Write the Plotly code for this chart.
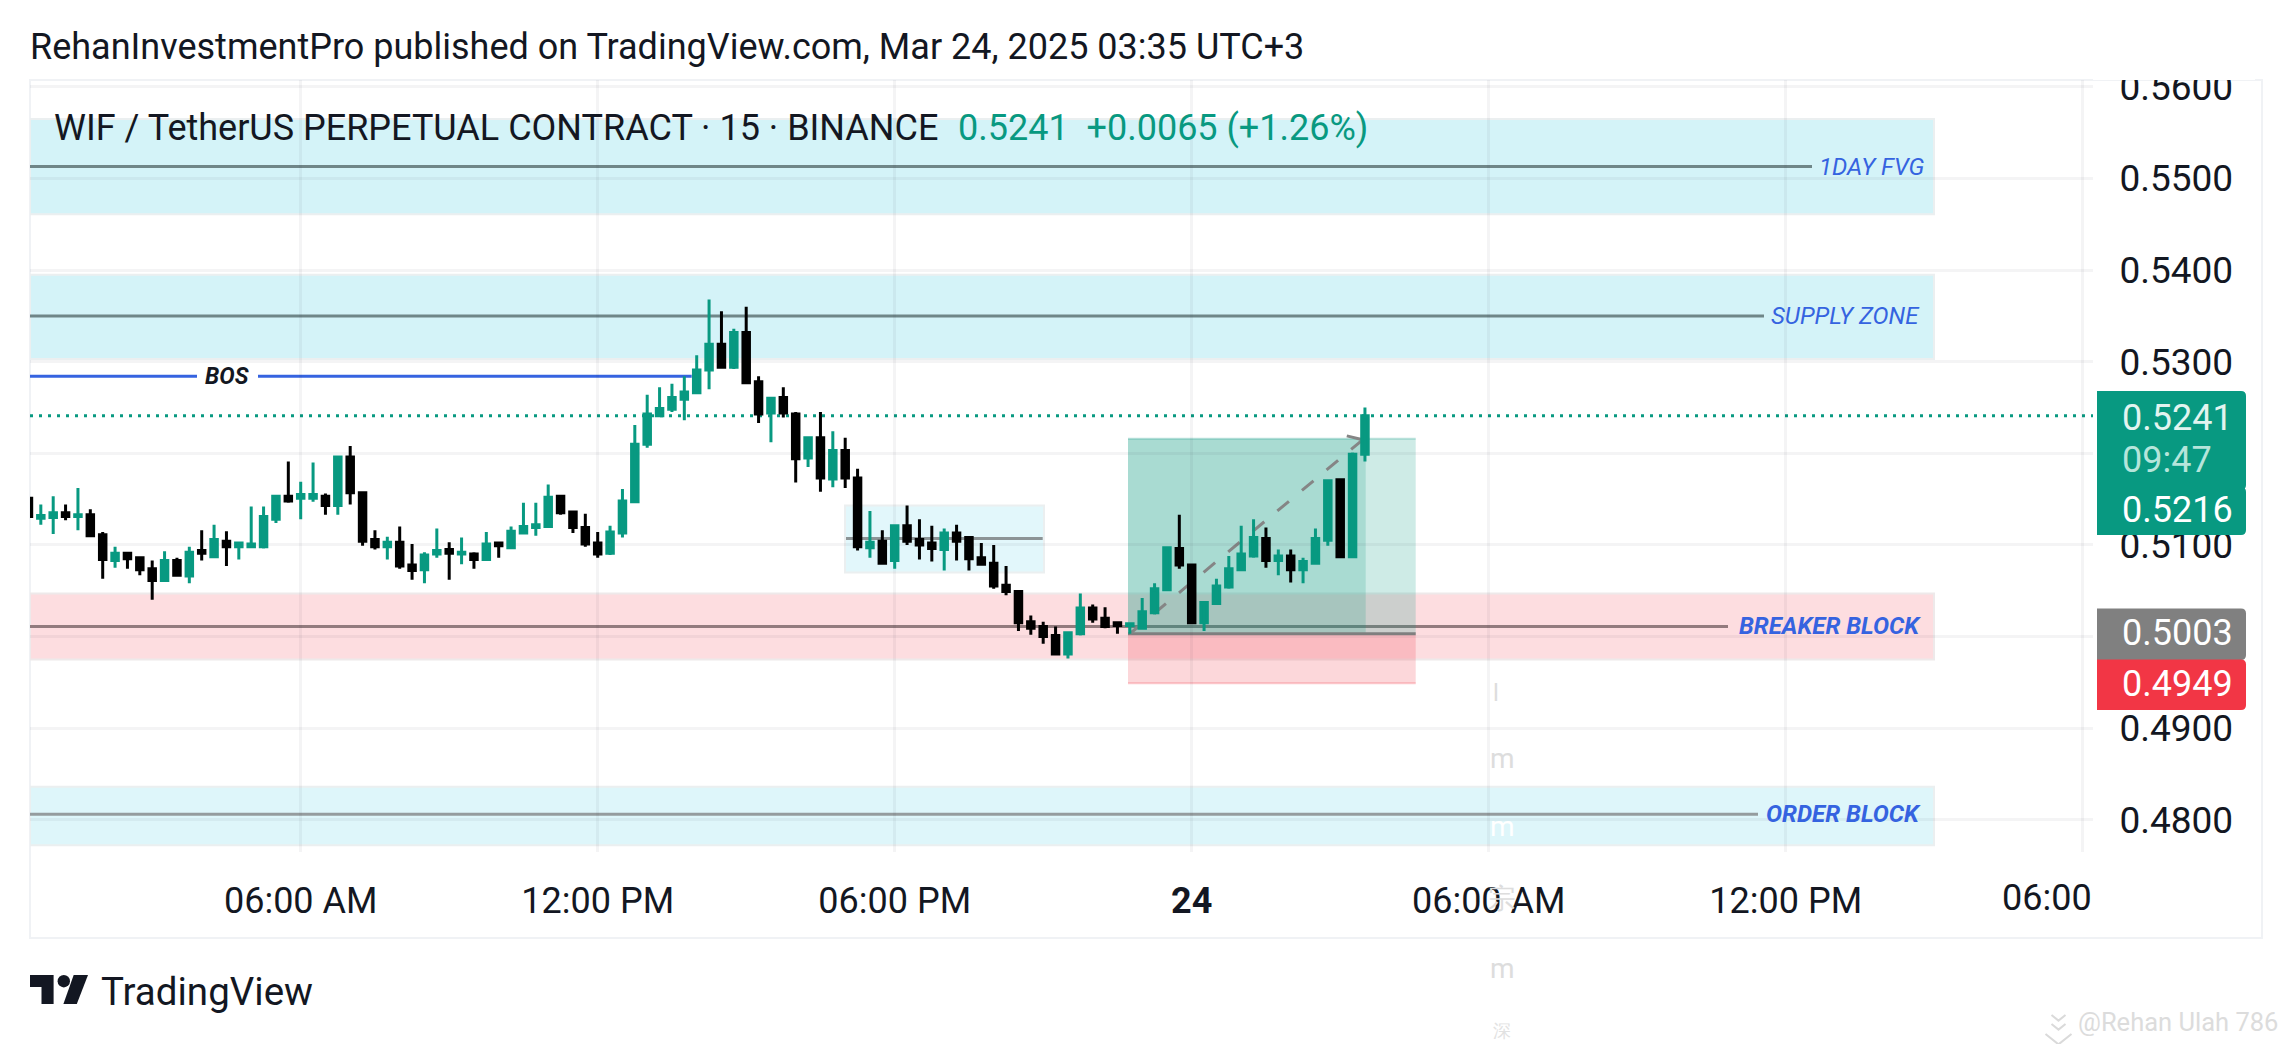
from datetime import datetime, timedelta
import plotly.graph_objects as go

# 15m bars, first one is Mar 23 00:30
start = datetime(2025, 3, 23, 0, 30)

opens = [0.5151, 0.5129, 0.5130, 0.5135, 0.5131, 0.5133, 0.5111, 0.5083, 0.5091, 0.5086,
         0.5074, 0.5061, 0.5083, 0.5066, 0.5094, 0.5087, 0.5104, 0.5098, 0.5098, 0.5098,
         0.5128, 0.5153, 0.5151, 0.5151, 0.5153, 0.5143, 0.5196, 0.5157, 0.5106, 0.5098,
         0.5103, 0.5078, 0.5073, 0.5090, 0.5095, 0.5090, 0.5090, 0.5084, 0.5102, 0.5097,
         0.5113, 0.5119, 0.5120, 0.5153, 0.5136, 0.5119, 0.5102, 0.5091, 0.5113, 0.5147,
         0.5210, 0.5241, 0.5248, 0.5259, 0.5266, 0.5291, 0.5319, 0.5294, 0.5332, 0.5278,
         0.5244, 0.5261, 0.5243, 0.5195, 0.5217, 0.5172, 0.5203, 0.5173, 0.5097, 0.5104,
         0.5083, 0.5121, 0.5106, 0.5102, 0.5095, 0.5113, 0.5108, 0.5086, 0.5080, 0.5056,
         0.5049, 0.5016, 0.5011, 0.5001, 0.4981, 0.5003, 0.5031, 0.5020, 0.5015, 0.5012,
         0.5009, 0.5026, 0.5051, 0.5096, 0.5078, 0.5015, 0.5036, 0.5054, 0.5073, 0.5088,
         0.5107, 0.5083, 0.5088, 0.5073, 0.5080, 0.5105, 0.5171, 0.5087, 0.5199]
highs = [0.5164, 0.5144, 0.5153, 0.5144, 0.5162, 0.5139, 0.5114, 0.5098, 0.5092, 0.5086,
         0.5083, 0.5093, 0.5086, 0.5098, 0.5116, 0.5122, 0.5115, 0.5103, 0.5142, 0.5142,
         0.5154, 0.5191, 0.5169, 0.5190, 0.5156, 0.5197, 0.5208, 0.5157, 0.5116, 0.5109,
         0.5120, 0.5101, 0.5092, 0.5118, 0.5103, 0.5108, 0.5092, 0.5114, 0.5103, 0.5120,
         0.5146, 0.5146, 0.5166, 0.5154, 0.5136, 0.5134, 0.5114, 0.5121, 0.5161, 0.5231,
         0.5264, 0.5272, 0.5276, 0.5284, 0.5307, 0.5368, 0.5355, 0.5336, 0.5360, 0.5284,
         0.5261, 0.5272, 0.5245, 0.5218, 0.5245, 0.5224, 0.5217, 0.5183, 0.5137, 0.5116,
         0.5121, 0.5143, 0.5128, 0.5121, 0.5118, 0.5122, 0.5109, 0.5102, 0.5100, 0.5077,
         0.5050, 0.5023, 0.5016, 0.5011, 0.5004, 0.5047, 0.5035, 0.5032, 0.5016, 0.5014,
         0.5042, 0.5058, 0.5098, 0.5133, 0.5079, 0.5037, 0.5063, 0.5088, 0.5121, 0.5128,
         0.5119, 0.5095, 0.5095, 0.5086, 0.5118, 0.5171, 0.5172, 0.5201, 0.5250]
lows = [0.5128, 0.5122, 0.5112, 0.5127, 0.5116, 0.5110, 0.5063, 0.5075, 0.5074, 0.5067,
        0.5040, 0.5061, 0.5067, 0.5058, 0.5083, 0.5087, 0.5077, 0.5084, 0.5098, 0.5096,
        0.5124, 0.5146, 0.5128, 0.5147, 0.5133, 0.5133, 0.5144, 0.5099, 0.5095, 0.5084,
        0.5074, 0.5062, 0.5058, 0.5086, 0.5062, 0.5079, 0.5074, 0.5084, 0.5086, 0.5096,
        0.5112, 0.5110, 0.5120, 0.5133, 0.5113, 0.5098, 0.5086, 0.5089, 0.5108, 0.5147,
        0.5206, 0.5240, 0.5245, 0.5236, 0.5266, 0.5270, 0.5294, 0.5292, 0.5277, 0.5233,
        0.5212, 0.5239, 0.5168, 0.5185, 0.5158, 0.5163, 0.5162, 0.5094, 0.5086, 0.5080,
        0.5074, 0.5100, 0.5084, 0.5082, 0.5072, 0.5083, 0.5072, 0.5079, 0.5052, 0.5045,
        0.5006, 0.5002, 0.4992, 0.4980, 0.4976, 0.5001, 0.5015, 0.5009, 0.5003, 0.5003,
        0.5008, 0.5024, 0.5050, 0.5074, 0.5015, 0.5006, 0.5036, 0.5052, 0.5073, 0.5086,
        0.5075, 0.5067, 0.5059, 0.5058, 0.5079, 0.5099, 0.5086, 0.5087, 0.5191]
closes = [0.5131, 0.5132, 0.5135, 0.5131, 0.5133, 0.5110, 0.5084, 0.5091, 0.5085, 0.5073,
          0.5061, 0.5083, 0.5067, 0.5092, 0.5091, 0.5106, 0.5098, 0.5102, 0.5101, 0.5131,
          0.5153, 0.5148, 0.5155, 0.5155, 0.5143, 0.5196, 0.5157, 0.5104, 0.5098, 0.5103,
          0.5077, 0.5072, 0.5089, 0.5094, 0.5091, 0.5092, 0.5084, 0.5101, 0.5099, 0.5115,
          0.5120, 0.5122, 0.5152, 0.5135, 0.5119, 0.5101, 0.5090, 0.5114, 0.5148, 0.5210,
          0.5243, 0.5249, 0.5261, 0.5267, 0.5291, 0.5319, 0.5294, 0.5332, 0.5277, 0.5243,
          0.5260, 0.5244, 0.5194, 0.5217, 0.5173, 0.5203, 0.5173, 0.5098, 0.5103, 0.5080,
          0.5121, 0.5104, 0.5100, 0.5096, 0.5113, 0.5104, 0.5085, 0.5079, 0.5055, 0.5049,
          0.5015, 0.5009, 0.5000, 0.4981, 0.5004, 0.5031, 0.5019, 0.5011, 0.5012, 0.5014,
          0.5027, 0.5052, 0.5097, 0.5078, 0.5015, 0.5037, 0.5055, 0.5074, 0.5090, 0.5108,
          0.5083, 0.5088, 0.5073, 0.5082, 0.5107, 0.5170, 0.5087, 0.5199, 0.5241]
times = [start + timedelta(minutes=15 * i) for i in range(len(opens))]

price_ticks = [0.56, 0.55, 0.54, 0.53, 0.52, 0.51, 0.50, 0.49, 0.48]
# 0.52 and 0.50 sit under the price labels in the picture
price_labels = ['0.5600', '0.5500', '0.5400', '0.5300', '', '0.5100', '', '0.4900', '0.4800']
time_ticks = [datetime(2025, 3, 23, 6), datetime(2025, 3, 23, 12), datetime(2025, 3, 23, 18),
              datetime(2025, 3, 24, 0), datetime(2025, 3, 24, 6), datetime(2025, 3, 24, 12),
              datetime(2025, 3, 24, 18)]
time_labels = ['06:00 AM', '12:00 PM', '06:00 PM', '<b>24</b>', '06:00 AM', '12:00 PM', '']

# zones: name, low, high, centre line
zone_names = ['1DAY FVG', 'SUPPLY ZONE', 'BREAKER BLOCK', 'ORDER BLOCK']
zone_lows = [0.5461, 0.5303, 0.4975, 0.4772]
zone_highs = [0.5565, 0.5395, 0.5047, 0.4836]
zone_mids = [0.5513, 0.5350, 0.5011, 0.4806]
bos_price = 0.5284
last_price = 0.5241
entry_price = 0.5003
target_price = 0.5216
stop_price = 0.4949

FONT = 'Roboto'
GREEN = '#089981'
BLUE = '#3563E0'
GRID = 'rgba(42,46,57,0.05)'

# pane position in page pixels
L, R, T, B = 30, 2093, 80, 852
PER_HOUR = 49.5
xrange = [datetime(2025, 3, 23, 6) - timedelta(hours=(300.7 - L) / PER_HOUR),
          datetime(2025, 3, 23, 6) + timedelta(hours=(R - 300.7) / PER_HOUR)]
yrange = [0.52 - (B - 453.3) / 9160, 0.52 + (453.3 - T) / 9160]


def px(x):
    return (x - L) / (R - L)


def py(y):
    return (B - y) / (B - T)


def t_at(x):
    return xrange[0] + timedelta(hours=(x - L) / PER_HOUR)


fig = go.Figure()

fig.add_trace(go.Candlestick(
    x=times, open=opens, high=highs, low=lows, close=closes,
    increasing=dict(line=dict(color=GREEN, width=3), fillcolor=GREEN),
    decreasing=dict(line=dict(color='#000000', width=3), fillcolor='#000000'),
    whiskerwidth=0, showlegend=False, hoverinfo='skip',
))


def rect(x0, x1, y0, y1, fill, line=None, width=0, layer='below'):
    fig.add_shape(type='rect', x0=x0, x1=x1, y0=y0, y1=y1, xref='x', yref='y', fillcolor=fill,
                  line=dict(color=line or 'rgba(0,0,0,0)', width=width), layer=layer)


def hline(x0, x1, y, color, width=3, dash_style='solid'):
    fig.add_shape(type='line', x0=x0, x1=x1, y0=y, y1=y, xref='x', yref='y',
                  line=dict(color=color, width=width, dash=dash_style), layer='below')


def page_box(x0, x1, y0, y1, fill, r=5):
    # square on the axis side, rounded on the outer side
    fig.add_shape(type='path', xref='paper', yref='paper', layer='above', fillcolor=fill,
                  line=dict(width=0),
                  path=f'M {px(x0)} {py(y0)} L {px(x1 - r)} {py(y0)} Q {px(x1)} {py(y0)} {px(x1)} {py(y0 + r)} '
                       f'L {px(x1)} {py(y1 - r)} Q {px(x1)} {py(y1)} {px(x1 - r)} {py(y1)} L {px(x0)} {py(y1)} Z')


def label(x, y, text, size=36, color='#131722', anchor='left', **kw):
    fig.add_annotation(x=px(x), y=py(y), xref='paper', yref='paper', text=text, showarrow=False,
                       xanchor=anchor, yanchor='middle', align=anchor, borderpad=0,
                       font=dict(family=FONT, size=size, color=color), **kw)


x_zone_end = t_at(1934)
x_left = xrange[0]
cyan = 'rgba(60,200,225,0.22)'
zone_fills = [cyan, cyan, 'rgba(242,54,69,0.17)', 'rgba(60,200,225,0.17)']
zone_edges = ['#EBEFF0', '#EBEFF0', '#EEE9EA', '#EBEFF0']
zone_line_ends = [1812, 1764, 1728, 1758]
zone_line_colors = ['#6F8688', '#6F8688', '#937B7E', '#959C9E']
for i in range(len(zone_names)):
    rect(x_left, x_zone_end, zone_lows[i], zone_highs[i], zone_fills[i], zone_edges[i], 2)
    hline(x_left, t_at(zone_line_ends[i]), zone_mids[i], zone_line_colors[i])

# small fvg in the middle
rect(t_at(845), t_at(1044), 0.5070, 0.5143, 'rgba(60,200,225,0.15)', '#EBEFF0', 2)
hline(t_at(846), t_at(1042.7), 0.5107, '#8C9496')

# long position tool
x_tool = t_at(1128)
rect(x_tool, t_at(1415.7), entry_price, target_price, 'rgba(8,153,129,0.2)')
rect(x_tool, t_at(1365.7), entry_price, target_price, 'rgba(8,153,129,0.19)')
rect(x_tool, t_at(1415.7), stop_price, entry_price, 'rgba(242,54,69,0.2)')
hline(x_tool, t_at(1415.7), entry_price, '#7F7F7F')
hline(x_tool, t_at(1415.7), target_price, 'rgba(8,153,129,0.25)', 2)
hline(x_tool, t_at(1415.7), stop_price, 'rgba(242,54,69,0.25)', 2)

# dashed trade line and its arrow head, both stay behind the candles
fig.add_shape(type='line', xref='x', yref='y', x0=times[89], y0=entry_price, x1=times[107] + timedelta(minutes=10),
              y1=0.5213, line=dict(color='#858585', width=3, dash='15px,17px'), layer='below')
fig.add_shape(type='line', xref='x', yref='y', x0=times[106] + timedelta(minutes=8), y0=0.5219,
              x1=times[107] + timedelta(minutes=11), y1=0.5215, line=dict(color='#858585', width=3), layer='below')

# BOS line, broken by its label
hline(x_left, t_at(197), bos_price, BLUE)
hline(t_at(258), t_at(691.7), bos_price, BLUE)

hline(x_left, xrange[1], last_price, GREEN, 3, '3px,6px')

# clip the top tick label at the pane edge
fig.add_shape(type='rect', xref='paper', yref='paper', x0=px(2093), x1=px(2255), y0=py(80), y1=py(62),
              fillcolor='#ffffff', line=dict(width=0), layer='above')

# price axis labels
page_box(2097, 2246, 391, 490, GREEN)
page_box(2097, 2246, 487, 535, GREEN)
page_box(2097, 2246, 608.5, 660, '#808080')
page_box(2097, 2246, 659.5, 710, '#F23645')

# pane border, logo
fig.add_shape(type='rect', xref='paper', yref='paper', x0=px(30), x1=px(2262), y0=py(80), y1=py(938),
              line=dict(color='#F0F2F5', width=2), fillcolor='rgba(0,0,0,0)', layer='below')
logo = '#131722'
fig.add_shape(type='path', xref='paper', yref='paper', fillcolor=logo, line=dict(width=0), layer='above',
              path=f'M {px(30)} {py(975)} L {px(53.6)} {py(975)} L {px(53.6)} {py(1004)} L {px(41.5)} {py(1004)} '
                   f'L {px(41.5)} {py(987)} L {px(30)} {py(987)} Z')
fig.add_shape(type='circle', xref='paper', yref='paper', x0=px(57.6), x1=px(70), y0=py(975), y1=py(987.4),
              fillcolor=logo, line=dict(width=0), layer='above')
fig.add_shape(type='path', xref='paper', yref='paper', fillcolor=logo, line=dict(width=0), layer='above',
              path=f'M {px(73.7)} {py(975)} L {px(88)} {py(975)} L {px(76.8)} {py(1004)} L {px(63.4)} {py(1004)} Z')

# watermark mark, three faint chevrons
for dy in [0, 9, 19]:
    half = 7 if dy < 19 else 13
    fig.add_shape(type='path', xref='paper', yref='paper', line=dict(color='#DADADA', width=2), layer='above',
                  path=f'M {px(2058.5 - half)} {py(1015 + dy)} L {px(2058.5)} {py(1015 + dy + half * 0.8)} '
                       f'L {px(2058.5 + half)} {py(1015 + dy)}')

# header texts
label(29, 47, 'RehanInvestmentPro published on TradingView.com, Mar 24, 2025 03:35 UTC+3', 36)
label(53, 128, 'WIF / TetherUS PERPETUAL CONTRACT · 15 · BINANCE', 36)
label(957, 128, '0.5241&nbsp;&nbsp;+0.0065 (+1.26%)', 36, GREEN)
label(100, 991, 'TradingView', 38.5)

# zone labels
label(1926, 166.7, '<i>1DAY FVG</i>', 24, BLUE, 'right')
label(1921, 316, '<i>SUPPLY ZONE</i>', 24, BLUE, 'right')
label(1922, 626, '<b><i>BREAKER BLOCK</i></b>', 24, BLUE, 'right')
label(1922, 814, '<b><i>ORDER BLOCK</i></b>', 24, BLUE, 'right')
label(227, 376, '<b><i>BOS</i></b>', 23, '#131722', 'center')

# price labels
label(2121, 418, '0.5241', 36, '#E2F4F0')
label(2121, 460, '09:47', 36, '#B5E5DB')
label(2121, 510, '0.5216', 36, '#FFFFFF')
label(2121, 633, '0.5003', 36, '#FFFFFF')
label(2121, 684, '0.4949', 36, '#FFFFFF')
label(2093, 898, '06:00', 36, '#131722', 'right')

# faint leftovers of a vertical watermark and the repost tag
label(1496, 693, 'l', 24, '#DDDDDD', 'center')
label(1502, 758, 'm', 28, '#DDDDDD', 'center')
label(1502, 826, 'm', 28, '#FFFFFF', 'center')
label(1502, 898, '宗', 28, '#DDDDDD', 'center')
label(1502, 968, 'm', 28, '#DDDDDD', 'center')
label(1502, 1030, '深', 18, '#E2E2E2', 'center')
label(2077, 1022, '@Rehan Ulah 786', 25.5, '#DCDCDC')

fig.update_layout(
    width=2292, height=1044,
    margin=dict(l=L, r=2292 - R, t=T, b=1044 - B),
    paper_bgcolor='#ffffff', plot_bgcolor='#ffffff',
    font=dict(family=FONT, color='#131722'),
    boxgap=0.25,
    showlegend=False,
    xaxis=dict(type='date', range=xrange, rangeslider=dict(visible=False), tickmode='array',
               tickvals=time_ticks, ticktext=time_labels, tickangle=0, showgrid=True, gridcolor=GRID,
               gridwidth=3, zeroline=False, showline=False, ticks='outside', ticklen=17,
               tickcolor='rgba(0,0,0,0)', tickfont=dict(size=36, family=FONT, color='#131722')),
    yaxis=dict(range=yrange, side='right', tickmode='array', tickvals=price_ticks,
               ticktext=price_labels, showgrid=True, gridcolor=GRID, gridwidth=3,
               zeroline=False, showline=False, ticks='outside', ticklen=18, tickcolor='rgba(0,0,0,0)',
               tickfont=dict(size=37, family=FONT, color='#131722')),
)

fig.write_html('out.html', config={'displayModeBar': False}, post_script="document.body.style.margin='0';")
